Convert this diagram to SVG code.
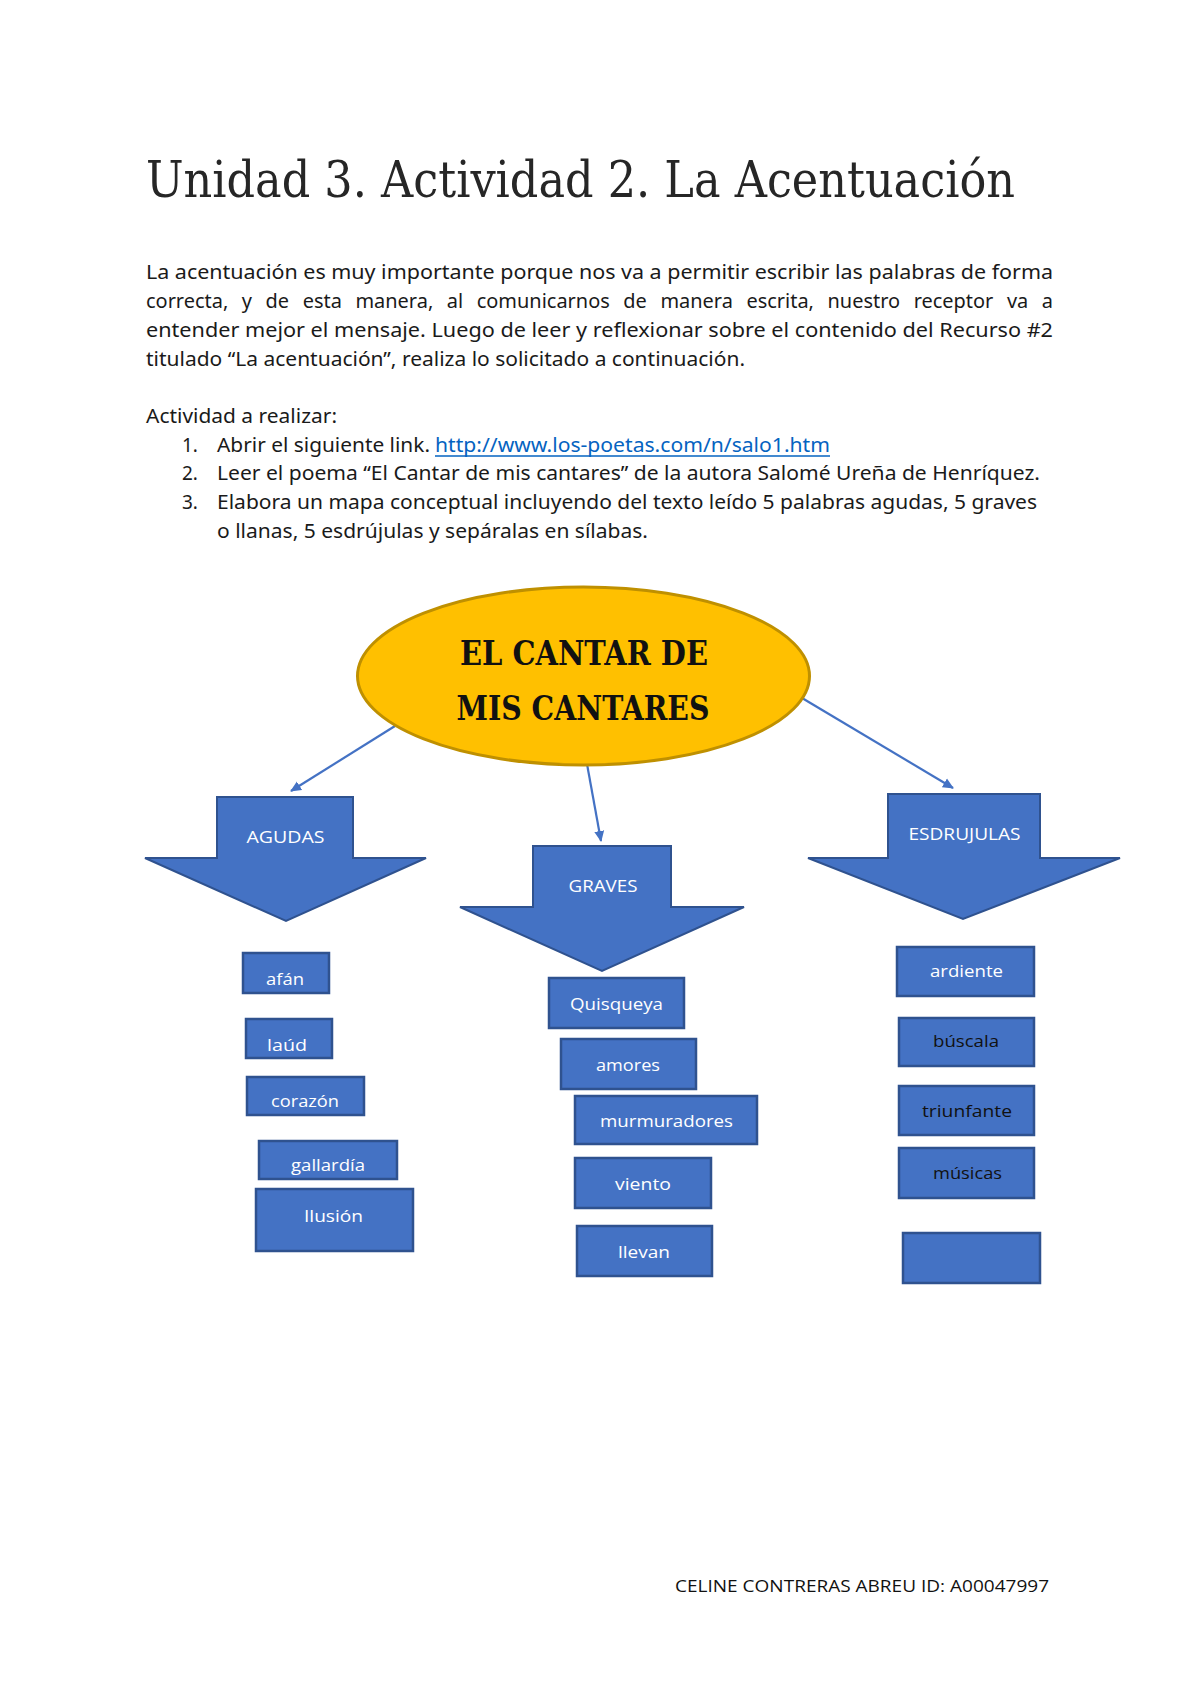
<svg xmlns="http://www.w3.org/2000/svg" width="1200" height="1696" viewBox="0 0 1200 1696">
<defs>
<style>
.body{font-family:"Noto Sans","Open Sans",sans-serif;font-size:19px;fill:#1a1a1a}
.title{font-family:"DejaVu Serif",serif;font-stretch:condensed;font-size:50px;fill:#262626}
.blk{fill:#4472C4;stroke:#2F528F;stroke-width:2}
.box{fill:#4472C4;stroke:#2F528F;stroke-width:2.5}
.lbl{font-family:"Open Sans","Noto Sans",sans-serif;font-size:17px;fill:#ffffff}
.lblk{font-family:"Open Sans","Noto Sans",sans-serif;font-size:17px;fill:#111111}
.conn{stroke:#4472C4;stroke-width:2.2;fill:none}
.big{font-family:"DejaVu Serif",serif;font-weight:bold;font-size:34px;fill:#111111;text-anchor:middle}
</style>
<marker id="ah" markerWidth="12" markerHeight="12" refX="10" refY="6" orient="auto" markerUnits="userSpaceOnUse">
<path d="M0,1 L11,6 L0,11 Z" fill="#4472C4"/>
</marker>
</defs>
<rect width="1200" height="1696" fill="#ffffff"/>

<text class="title" x="146" y="197" textLength="869" lengthAdjust="spacingAndGlyphs">Unidad 3. Actividad 2. La Acentuación</text>

<g id="intro">
<text class="body" x="146" y="279" textLength="907" lengthAdjust="spacingAndGlyphs">La acentuación es muy importante porque nos va a permitir escribir las palabras de forma</text>
<text class="body" x="146" y="308" textLength="907" lengthAdjust="spacingAndGlyphs" word-spacing="8">correcta, y de esta manera, al comunicarnos de manera escrita, nuestro receptor va a</text>
<text class="body" x="146" y="337" textLength="907" lengthAdjust="spacingAndGlyphs">entender mejor el mensaje. Luego de leer y reflexionar sobre el contenido del Recurso #2</text>
<text class="body" x="146" y="366" textLength="599" lengthAdjust="spacingAndGlyphs">titulado “La acentuación”, realiza lo solicitado a continuación.</text>
<text class="body" x="146" y="423" textLength="191" lengthAdjust="spacingAndGlyphs">Actividad a realizar:</text>
<text class="body" x="182" y="452">1.</text>
<text class="body" x="217" y="452" textLength="213" lengthAdjust="spacingAndGlyphs">Abrir el siguiente link.</text>
<text class="body" x="435" y="452" textLength="395" lengthAdjust="spacingAndGlyphs" style="fill:#0563C1">http://www.los-poetas.com/n/salo1.htm</text>
<line x1="435" y1="456" x2="830" y2="456" stroke="#0563C1" stroke-width="1.3"/>
<text class="body" x="182" y="480">2.</text>
<text class="body" x="217" y="480" textLength="823" lengthAdjust="spacingAndGlyphs">Leer el poema “El Cantar de mis cantares” de la autora Salomé Ureña de Henríquez.</text>
<text class="body" x="182" y="509">3.</text>
<text class="body" x="217" y="509" textLength="820" lengthAdjust="spacingAndGlyphs">Elabora un mapa conceptual incluyendo del texto leído 5 palabras agudas, 5 graves</text>
<text class="body" x="217" y="538" textLength="431" lengthAdjust="spacingAndGlyphs">o llanas, 5 esdrújulas y sepáralas en sílabas.</text>
</g>

<g id="connectors">
<line class="conn" x1="395" y1="726" x2="291" y2="791" marker-end="url(#ah)"/>
<line class="conn" x1="587" y1="764" x2="601" y2="841" marker-end="url(#ah)"/>
<line class="conn" x1="802" y1="698" x2="953" y2="788" marker-end="url(#ah)"/>
</g>

<g id="main">
<ellipse cx="583.5" cy="676" rx="226" ry="89" fill="#FFC000" stroke="#BF9000" stroke-width="3"/>
<text class="big" x="584" y="665" textLength="248" lengthAdjust="spacingAndGlyphs">EL CANTAR DE</text>
<text class="big" x="583" y="720" textLength="253" lengthAdjust="spacingAndGlyphs">MIS CANTARES</text>
</g>

<g id="agudas">
<path class="blk" d="M217,797 L353,797 L353,858 L426,858 L286,921 L145,858 L217,858 Z"/>
<text class="lbl" x="285.5" y="843" text-anchor="middle" textLength="78" lengthAdjust="spacingAndGlyphs">AGUDAS</text>
</g>
<g id="graves">
<path class="blk" d="M533,846 L671,846 L671,907 L744,907 L602,971 L460,907 L533,907 Z"/>
<text class="lbl" x="603" y="892" text-anchor="middle" textLength="69" lengthAdjust="spacingAndGlyphs">GRAVES</text>
</g>
<g id="esdrujulas">
<path class="blk" d="M888,794 L1040,794 L1040,858 L1120,858 L963,919 L808,858 L888,858 Z"/>
<text class="lbl" x="964.5" y="840" text-anchor="middle" textLength="112" lengthAdjust="spacingAndGlyphs">ESDRUJULAS</text>
</g>

<g id="afan"><rect class="box" x="243" y="953" width="86" height="40"/><text class="lbl" x="266" y="985" textLength="38" lengthAdjust="spacingAndGlyphs">afán</text></g>
<g id="laud"><rect class="box" x="246" y="1019" width="86" height="39"/><text class="lbl" x="267" y="1051" textLength="40" lengthAdjust="spacingAndGlyphs">laúd</text></g>
<g id="corazon"><rect class="box" x="247" y="1077" width="117" height="38"/><text class="lbl" x="271" y="1107" textLength="68" lengthAdjust="spacingAndGlyphs">corazón</text></g>
<g id="gallardia"><rect class="box" x="259" y="1141" width="138" height="38"/><text class="lbl" x="291" y="1171" textLength="74" lengthAdjust="spacingAndGlyphs">gallardía</text></g>
<g id="ilusion"><rect class="box" x="256" y="1189" width="157" height="62"/><text class="lbl" x="304" y="1222" textLength="59" lengthAdjust="spacingAndGlyphs">Ilusión</text></g>

<g id="quisqueya"><rect class="box" x="549" y="978" width="135" height="50"/><text class="lbl" x="570" y="1010" textLength="93" lengthAdjust="spacingAndGlyphs">Quisqueya</text></g>
<g id="amores"><rect class="box" x="561" y="1039" width="135" height="50"/><text class="lbl" x="596" y="1071" textLength="64" lengthAdjust="spacingAndGlyphs">amores</text></g>
<g id="murmuradores"><rect class="box" x="575" y="1096" width="182" height="48"/><text class="lbl" x="600" y="1127" textLength="133" lengthAdjust="spacingAndGlyphs">murmuradores</text></g>
<g id="viento"><rect class="box" x="575" y="1158" width="136" height="50"/><text class="lbl" x="615" y="1190" textLength="56" lengthAdjust="spacingAndGlyphs">viento</text></g>
<g id="llevan"><rect class="box" x="577" y="1226" width="135" height="50"/><text class="lbl" x="618" y="1258" textLength="52" lengthAdjust="spacingAndGlyphs">llevan</text></g>

<g id="ardiente"><rect class="box" x="897" y="947" width="137" height="49"/><text class="lbl" x="930" y="977" textLength="73" lengthAdjust="spacingAndGlyphs">ardiente</text></g>
<g id="buscala"><rect class="box" x="899" y="1018" width="135" height="48"/><text class="lblk" x="933" y="1047" textLength="66" lengthAdjust="spacingAndGlyphs">búscala</text></g>
<g id="triunfante"><rect class="box" x="899" y="1086" width="135" height="49"/><text class="lblk" x="922" y="1117" textLength="90" lengthAdjust="spacingAndGlyphs">triunfante</text></g>
<g id="musicas"><rect class="box" x="899" y="1148" width="135" height="50"/><text class="lblk" x="933" y="1179" textLength="69" lengthAdjust="spacingAndGlyphs">músicas</text></g>
<g id="empty"><rect class="box" x="903" y="1233" width="137" height="50"/></g>

<text x="675" y="1592" font-family="Open Sans, Noto Sans, sans-serif" font-size="17" fill="#111111" textLength="374" lengthAdjust="spacingAndGlyphs">CELINE CONTRERAS ABREU ID: A00047997</text>
</svg>
